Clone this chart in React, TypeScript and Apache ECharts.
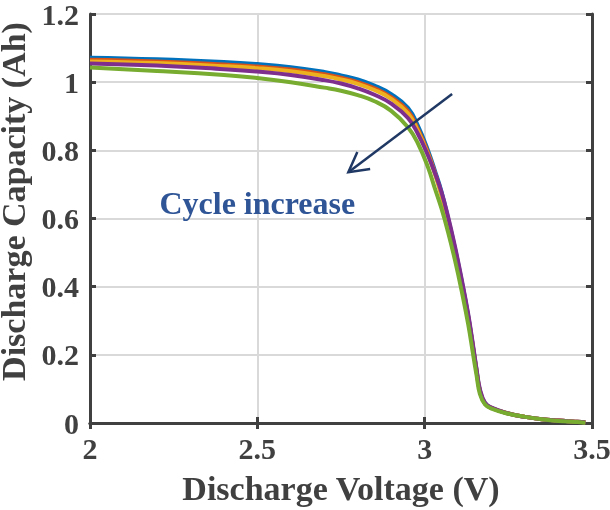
import React, { useEffect, useRef } from "react";
import * as echarts from "echarts";

// Discharge voltage sample points (V)
const voltage = [
  2.0, 2.2, 2.4, 2.5, 2.6, 2.7, 2.75, 2.8, 2.85, 2.9, 2.95, 2.98, 3.01, 3.03,
  3.05, 3.07, 3.09, 3.11, 3.13, 3.145, 3.155, 3.165, 3.18, 3.2, 3.25, 3.3,
  3.35, 3.4, 3.45, 3.48,
];

// Discharge capacity (Ah) per cycle, earliest to latest
const cycle1 = [
  1.072, 1.067, 1.059, 1.053, 1.044, 1.03, 1.02, 1.008, 0.99, 0.965, 0.925,
  0.872, 0.8, 0.742, 0.68, 0.6, 0.515, 0.42, 0.315, 0.22, 0.155, 0.095,
  0.058, 0.044, 0.028, 0.018, 0.011, 0.007, 0.004, 0.002,
];
const cycle2 = [
  1.066, 1.061, 1.052, 1.046, 1.037, 1.023, 1.013, 1.0, 0.982, 0.956, 0.915,
  0.862, 0.793, 0.737, 0.672, 0.595, 0.51, 0.415, 0.312, 0.218, 0.153, 0.094,
  0.057, 0.044, 0.028, 0.018, 0.011, 0.007, 0.004, 0.002,
];
const cycle3 = [
  1.061, 1.056, 1.047, 1.041, 1.032, 1.018, 1.008, 0.995, 0.977, 0.951,
  0.909, 0.856, 0.788, 0.733, 0.668, 0.593, 0.508, 0.413, 0.31, 0.217, 0.152,
  0.094, 0.057, 0.044, 0.028, 0.018, 0.011, 0.007, 0.004, 0.002,
];
const cycle4 = [
  1.055, 1.049, 1.038, 1.031, 1.021, 1.006, 0.996, 0.982, 0.963, 0.937, 0.895,
  0.848, 0.785, 0.735, 0.678, 0.605, 0.52, 0.425, 0.32, 0.225, 0.158, 0.1,
  0.06, 0.045, 0.028, 0.018, 0.011, 0.007, 0.004, 0.002,
];
const cycle5 = [
  1.043, 1.033, 1.021, 1.012, 1.0, 0.984, 0.975, 0.962, 0.944, 0.916, 0.868,
  0.82, 0.75, 0.69, 0.63, 0.56, 0.48, 0.39, 0.29, 0.2, 0.14, 0.085, 0.055,
  0.042, 0.027, 0.018, 0.011, 0.006, 0.003, 0.001,
];

const cycles = [cycle1, cycle2, cycle3, cycle4, cycle5];
const cycleColors = ["#0072BD", "#D95319", "#EDB120", "#7E2F8E", "#77AC30"];

const xTicks = { min: 2, max: 3.5, interval: 0.5 };
const yTicks = { min: 0, max: 1.2, interval: 0.2 };

// Arrow annotation: tail and tip, in data coordinates
const arrowTail = [3.082, 0.965];
const arrowTip = [2.772, 0.736];
const noteText = "Cycle increase";
const notePos = [2.5, 0.645];

const FONT = "'Liberation Serif', 'Times New Roman', serif";
const AXIS_COLOR = "#404040";

export default function App() {
  const ref = useRef<HTMLDivElement>(null);

  useEffect(() => {
    if (!ref.current) return;
    const chart = echarts.init(ref.current, null, { renderer: "svg" });

    const frameAxis = {
      axisLine: { show: true, lineStyle: { color: AXIS_COLOR, width: 3 } },
      axisTick: {
        show: true,
        inside: true,
        length: 6,
        lineStyle: { color: AXIS_COLOR, width: 3 },
      },
    };

    chart.setOption({
      animation: false,
      grid: {
        left: 90,
        right: 18,
        top: 14,
        bottom: 87,
        containLabel: false,
        outerBoundsMode: "none",
      },
      xAxis: [
        {
          type: "value",
          ...xTicks,
          ...frameAxis,
          name: "Discharge Voltage (V)",
          nameLocation: "middle",
          nameGap: 48,
          nameTextStyle: {
            fontFamily: FONT,
            fontWeight: "bold",
            fontSize: 34,
            color: AXIS_COLOR,
          },
          axisLabel: {
            fontFamily: FONT,
            fontWeight: "bold",
            fontSize: 30,
            color: AXIS_COLOR,
            margin: 10,
          },
          splitLine: { show: true, lineStyle: { color: "#d9d9d9", width: 2 } },
        },
        {
          type: "value",
          position: "top",
          ...xTicks,
          ...frameAxis,
          axisLabel: { show: false },
          splitLine: { show: false },
        },
      ],
      yAxis: [
        {
          type: "value",
          ...yTicks,
          ...frameAxis,
          name: "Discharge Capacity (Ah)",
          nameLocation: "middle",
          nameGap: 47,
          nameTextStyle: {
            fontFamily: FONT,
            fontWeight: "bold",
            fontSize: 34,
            lineHeight: 30,
            color: AXIS_COLOR,
            padding: [0, 0, 0, 34],
          },
          axisLabel: {
            fontFamily: FONT,
            fontWeight: "bold",
            fontSize: 30,
            lineHeight: 26,
            color: AXIS_COLOR,
            margin: 11,
          },
          splitLine: { show: true, lineStyle: { color: "#d9d9d9", width: 2 } },
        },
        {
          type: "value",
          position: "right",
          ...yTicks,
          ...frameAxis,
          axisLabel: { show: false },
          splitLine: { show: false },
        },
      ],
      series: cycles.map((cap, i) => ({
        type: "line",
        name: `Cycle ${i + 1}`,
        data: voltage.map((v, k) => [v, cap[k]]),
        showSymbol: false,
        smooth: 0.45,
        lineStyle: { color: cycleColors[i], width: 4 },
        z: 2 + i,
      })),
    });

    const tail = chart.convertToPixel({ gridIndex: 0 }, arrowTail) as number[];
    const tip = chart.convertToPixel({ gridIndex: 0 }, arrowTip) as number[];
    const note = chart.convertToPixel({ gridIndex: 0 }, notePos) as number[];
    const ang = Math.atan2(tail[1] - tip[1], tail[0] - tip[0]);
    const headLen = 22;
    const spread = (29 * Math.PI) / 180;
    const arm = (s: number) => [
      tip[0] + headLen * Math.cos(ang + s),
      tip[1] + headLen * Math.sin(ang + s),
    ];

    chart.setOption({
      graphic: [
        {
          type: "line",
          z: 20,
          shape: { x1: tail[0], y1: tail[1], x2: tip[0], y2: tip[1] },
          style: { stroke: "#1f3864", lineWidth: 2.5 },
        },
        {
          type: "polyline",
          z: 20,
          shape: { points: [arm(spread), tip, arm(-spread)] },
          style: { stroke: "#1f3864", lineWidth: 2.5, fill: null },
        },
        {
          type: "text",
          z: 20,
          x: note[0],
          y: note[1],
          style: {
            text: noteText,
            font: `bold 32px ${FONT}`,
            fill: "#2f5597",
            align: "center",
            verticalAlign: "middle",
          },
        },
      ],
    });

    return () => chart.dispose();
  }, []);

  return (
    <div
      ref={ref}
      style={{ position: "fixed", left: 0, top: 0, width: 610, height: 510 }}
    />
  );
}
